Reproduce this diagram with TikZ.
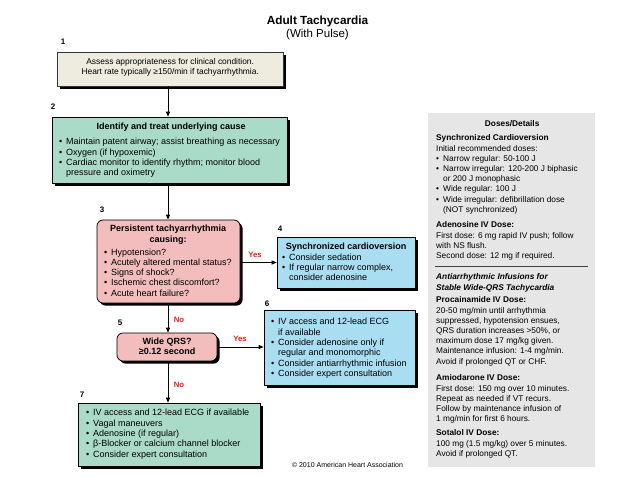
\documentclass[tikz,border=0pt]{standalone}
\usepackage{fontspec}
\setmainfont{Liberation Sans}
\usetikzlibrary{arrows.meta,shadows}
\definecolor{beige}{HTML}{EDECDF}
\definecolor{mint}{HTML}{AADBC8}
\definecolor{rose}{HTML}{F4BDBD}
\definecolor{sky}{HTML}{A9DDF2}
\definecolor{panelgray}{HTML}{E6E6E6}
\definecolor{ahared}{HTML}{E2231A}
\newcommand{\bl}{\makebox[7pt][l]{\textbullet}}
\newcommand{\ind}{\leavevmode\hspace*{7pt}}
\newcommand{\blk}[4]{\vtop{\hsize=#1\parindent=0pt\parskip=0pt\fontsize{#2}{#3}\selectfont\raggedright\leavevmode #4\par}}
\newcommand{\ctitle}[1]{\leavevmode\hbox to\hsize{\hfil\bfseries #1\hfil}}
\newcommand{\btitle}[1]{{\bfseries #1}}
\begin{document}
\begin{tikzpicture}[x=1pt,y=-1pt,
  shbox/.style={draw=black, line width=0.7pt, inner sep=0pt,
    drop shadow={shadow xshift=2.6pt, shadow yshift=-2.6pt, fill=black, opacity=1}},
  txt/.style={inner sep=0pt, anchor=base west},
  num/.style={inner sep=0pt, anchor=base, font=\bfseries\fontsize{8}{9}\selectfont},
  lab/.style={inner sep=0pt, anchor=base, text=ahared, font=\bfseries\fontsize{7.8}{9}\selectfont},
  arr/.style={line width=0.8pt, -{Triangle[length=5pt,width=4pt]}}]
\useasboundingbox (0,0) rectangle (638,478);
\fill[white] (0,0) rectangle (638,478);

% title
\node[inner sep=0pt, anchor=base, font=\bfseries\fontsize{11.8}{14}\selectfont] (title) at (317.5,25) {Adult Tachycardia};
\node[inner sep=0pt, anchor=base, font=\fontsize{11.5}{14}\selectfont] (subtitle) at (317.5,37.5) {(With Pulse)};

% boxes
\node[shbox, draw=black!80, fill=beige, minimum width=226pt, minimum height=34pt] (b1) at (170,69) {};
\node[shbox, fill=mint, minimum width=235pt, minimum height=66pt] (b2) at (169.5,150) {};
\node[shbox, fill=rose, rounded corners=6pt, minimum width=143pt, minimum height=83pt] (b3) at (168.5,261.5) {};
\node[shbox, fill=sky, minimum width=138pt, minimum height=51pt] (b4) at (346,262.5) {};
\node[shbox, fill=rose, rounded corners=6pt, minimum width=100pt, minimum height=28pt] (b5) at (167,347) {};
\node[shbox, fill=sky, minimum width=151pt, minimum height=75pt] (b6) at (339.5,347.5) {};
\node[shbox, fill=mint, minimum width=182pt, minimum height=63pt] (b7) at (169,434.5) {};
\node[fill=panelgray, inner sep=0pt, minimum width=167pt, minimum height=354pt] (panel) at (511.5,290) {};

% step numbers
\node[num] (n1) at (63,45) {1};
\node[num] (n2) at (53,110) {2};
\node[num] (n3) at (102,213) {3};
\node[num] (n4) at (280,232) {4};
\node[num] (n5) at (120,326) {5};
\node[num] (n6) at (267,307) {6};
\node[num] (n7) at (82,398) {7};

% box texts
\node[txt] (t1) at (58,65) {\blk{224pt}{8.4}{10pt}{%
\leavevmode\hbox to\hsize{\hfil Assess appropriateness for clinical condition.\hfil}\\
\leavevmode\hbox to\hsize{\hfil Heart rate typically ≥150/min if tachyarrhythmia.\hfil}}};

\node[txt] (t2) at (59,130) {\blk{224pt}{9}{10.3pt}{%
\ctitle{Identify and treat underlying cause}\\[4.5pt]
\bl Maintain patent airway; assist breathing as necessary\\
\bl Oxygen (if hypoxemic)\\
\bl Cardiac monitor to identify rhythm; monitor blood\\
\ind pressure and oximetry}};

\node[txt] (t3) at (104,232) {\blk{128pt}{9}{10.3pt}{%
\ctitle{Persistent tachyarrhythmia}\\
\ctitle{causing:}\\[2.5pt]
\bl Hypotension?\\
\bl Acutely altered mental status?\\
\bl Signs of shock?\\
\bl Ischemic chest discomfort?\\
\bl Acute heart failure?}};

\node[txt] (t4) at (282,250) {\blk{128pt}{9}{10.3pt}{%
\ctitle{Synchronized cardioversion}\\
\bl Consider sedation\\
\bl If regular narrow complex,\\
\ind consider adenosine}};

\node[txt] (t5) at (122,345) {\blk{90pt}{9}{10pt}{%
\ctitle{Wide QRS?}\\
\ctitle{≥0.12 second}}};

\node[txt] (t6) at (271,325) {\blk{142pt}{9}{10.3pt}{%
\bl IV access and 12-lead ECG\\
\ind if available\\
\bl Consider adenosine only if\\
\ind regular and monomorphic\\
\bl Consider antiarrhythmic infusion\\
\bl Consider expert consultation}};

\node[txt] (t7) at (86,416) {\blk{170pt}{9}{10.3pt}{%
\bl IV access and 12-lead ECG if available\\
\bl Vagal maneuvers\\
\bl Adenosine (if regular)\\
\bl β-Blocker or calcium channel blocker\\
\bl Consider expert consultation}};

% panel texts
\node[txt] (p0) at (436,127) {\blk{152pt}{8.3}{10.2pt}{\ctitle{Doses/Details}}};
\node[txt] (p1) at (436,141) {\blk{156pt}{8.3}{10.2pt}{%
\btitle{Synchronized Cardioversion}\\
Initial recommended doses:\\
\bl Narrow regular: 50-100 J\\
\bl Narrow irregular: 120-200 J biphasic\\
\ind or 200 J monophasic\\
\bl Wide regular: 100 J\\
\bl Wide irregular: defibrillation dose\\
\ind (NOT synchronized)}};
\node[txt] (p2) at (436,228) {\blk{156pt}{8.3}{10.2pt}{%
\btitle{Adenosine IV Dose:}\\
First dose: 6 mg rapid IV push; follow\\
with NS flush.\\
Second dose: 12 mg if required.}};
\node[txt] (p3) at (436,280) {\blk{156pt}{8.3}{10.2pt}{%
{\bfseries\itshape Antiarrhythmic Infusions for}\\
{\bfseries\itshape Stable Wide-QRS Tachycardia}}};
\node[txt] (p4) at (436,303) {\blk{156pt}{8.3}{10.2pt}{%
\btitle{Procainamide IV Dose:}\\
20-50 mg/min until arrhythmia\\
suppressed, hypotension ensues,\\
QRS duration increases >50\%, or\\
maximum dose 17 mg/kg given.\\
Maintenance infusion: 1-4 mg/min.\\
Avoid if prolonged QT or CHF.}};
\node[txt] (p5) at (436,381) {\blk{156pt}{8.3}{10.2pt}{%
\btitle{Amiodarone IV Dose:}\\
First dose: 150 mg over 10 minutes.\\
Repeat as needed if VT recurs.\\
Follow by maintenance infusion of\\
1 mg/min for first 6 hours.}};
\node[txt] (p6) at (436,436) {\blk{156pt}{8.3}{10.2pt}{%
\btitle{Sotalol IV Dose:}\\
100 mg (1.5 mg/kg) over 5 minutes.\\
Avoid if prolonged QT.}};
\draw[line width=0.7pt, black!75] ([xshift=7pt]panel.north west |- 0,266) -- ([xshift=-7pt]panel.north east |- 0,266);

% copyright
\node[inner sep=0pt, anchor=base, font=\fontsize{7}{8}\selectfont] (copy) at (347.5,468) {\textcopyright{} 2010 American Heart Association};

% connectors
\coordinate (ax) at (168,0);
\draw[arr] (b1.south -| ax) -- (b2.north -| ax);
\draw[arr] (b2.south -| ax) -- (b3.north -| ax);
\draw[arr] (b3.south -| ax) -- (b5.north -| ax);
\draw[arr] (b5.south -| ax) -- (b7.north -| ax);
\draw[arr] (b3.east |- b4.west) -- (b4.west);
\draw[arr] (b5.east) -- (b6.west |- b5.east);

% labels
\node[lab] (yes1) at (255,258) {Yes};
\node[lab] (no1) at (179,323) {No};
\node[lab] (yes2) at (240,342) {Yes};
\node[lab] (no2) at (179,388) {No};
\end{tikzpicture}
\end{document}
